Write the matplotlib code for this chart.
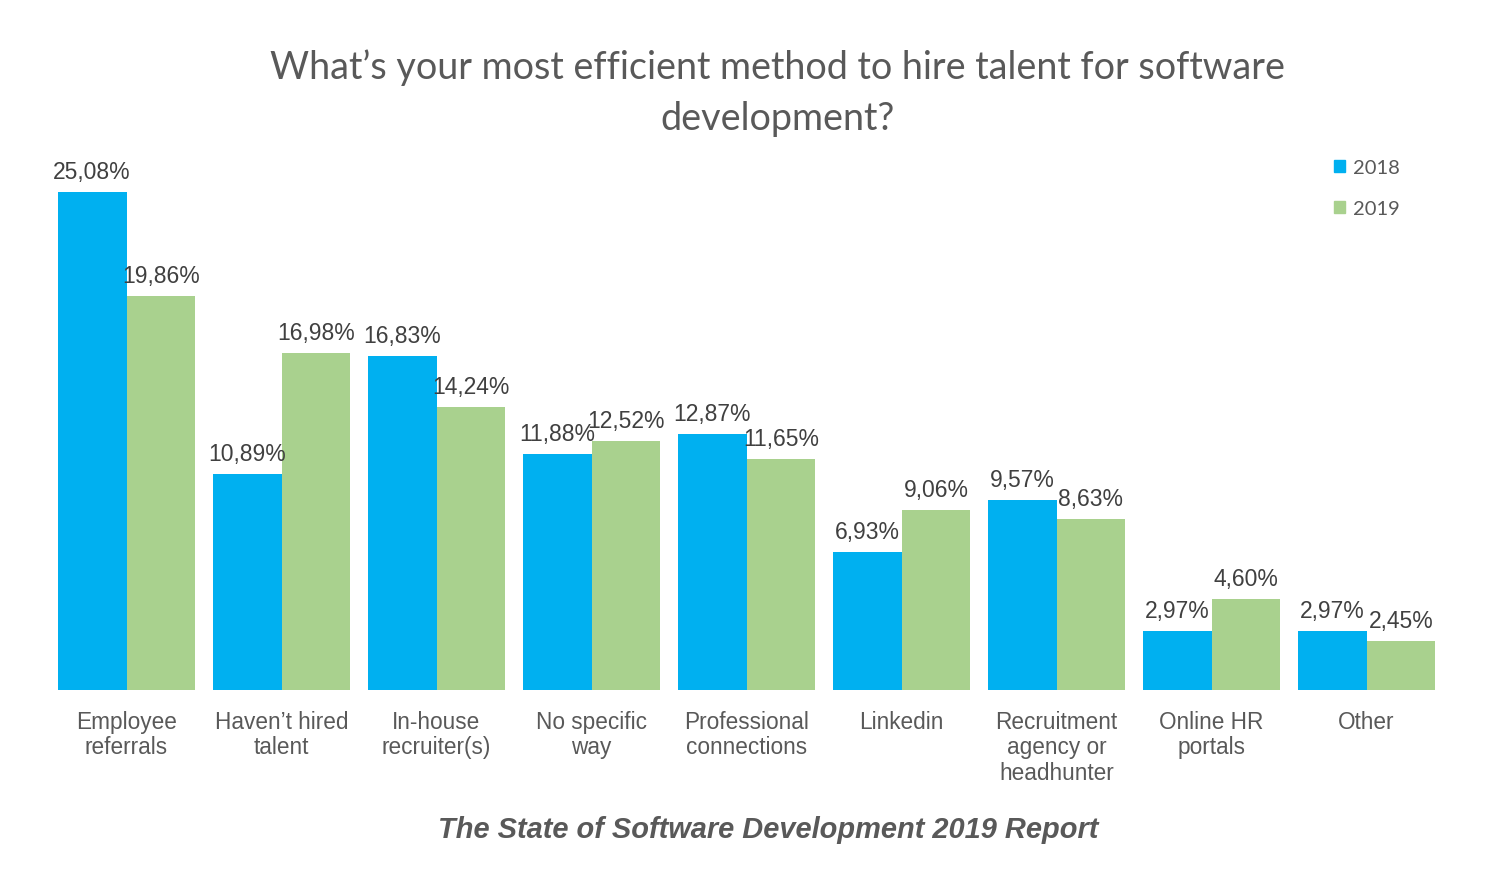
import numpy as np
import matplotlib.pyplot as plt
from matplotlib.patches import Patch

categories = ['Employee\nreferrals', 'Haven\u2019t hired\ntalent', 'In-house\nrecruiter(s)',
              'No specific\nway', 'Professional\nconnections', 'Linkedin',
              'Recruitment\nagency or\nheadhunter', 'Online HR\nportals', 'Other']
vals_2018 = [25.08, 10.89, 16.83, 11.88, 12.87, 6.93, 9.57, 2.97, 2.97]
vals_2019 = [19.86, 16.98, 14.24, 12.52, 11.65, 9.06, 8.63, 4.60, 2.45]
years = ['2018', '2019']

c18 = '#00B0F0'
c19 = '#A9D18E'
txt_dark = '#404040'
txt_grey = '#595959'

W, H = 1495, 895
fig = plt.figure(figsize=(W / 100, H / 100), dpi=100)
ax = fig.add_axes([49 / W, 1 - 691 / H, 1395 / W, (691 - 149) / H])

x = np.arange(len(categories))
bw = 0.445
b1 = ax.bar(x - bw / 2, vals_2018, bw, color=c18)
b2 = ax.bar(x + bw / 2, vals_2019, bw, color=c19)


def pct(v):
    return f'{v:.2f}'.replace('.', ',') + '%'


for bars, vals in ((b1, vals_2018), (b2, vals_2019)):
    for b, v in zip(bars, vals):
        ax.annotate(pct(v), (b.get_x() + b.get_width() / 2, v),
                    xytext=(0, 6.5), textcoords='offset points',
                    ha='center', va='bottom', fontsize=16.5,
                    family='Liberation Sans', color=txt_dark)

ax.set_xlim(-0.5, len(categories) - 0.5)
ax.set_ylim(0, 27.3)
ax.set_yticks([])
ax.set_xticks(x)
ax.set_xticklabels(categories, fontsize=16.3, family='Liberation Sans',
                   color=txt_grey, linespacing=1.13)
ax.tick_params(axis='x', length=0, pad=14.5)
for s in ax.spines.values():
    s.set_visible(False)

fig.text(777 / W, 1 - 93 / H,
         'What\u2019s your most efficient method to hire talent for software\ndevelopment?',
         ha='center', va='center', fontsize=27.2, family='Lato', color=txt_grey,
         linespacing=1.5)

fig.text(768 / W, 1 - 830 / H, 'The State of Software Development 2019 Report',
         ha='center', va='center', fontsize=20.9, family='Liberation Sans',
         weight='bold', style='italic', color=txt_grey)

handles = [Patch(color=c18), Patch(color=c19)]
fig.legend(handles, years, loc='upper left', bbox_to_anchor=(1316 / W, 1 - 142 / H),
           frameon=False, handlelength=0.55, handleheight=0.55, handletextpad=0.4,
           labelspacing=1.2, prop={'family': 'Lato', 'size': 14.5}, labelcolor=txt_grey)

fig.savefig('out.png', dpi=100)
